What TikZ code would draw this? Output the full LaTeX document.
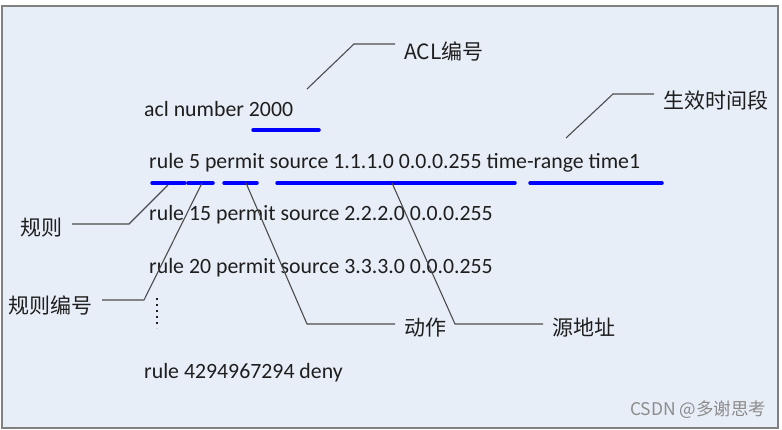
\documentclass[tikz,border=0pt]{standalone}
\usepackage{fontspec}
\setmainfont{Carlito}
\newfontfamily\cjk{Noto Sans CJK SC}
\usetikzlibrary{calc}

\definecolor{panel}{RGB}{232,238,248}
\definecolor{ink}{RGB}{30,30,30}

\tikzset{
  cmd/.style={anchor=west, inner sep=0pt, text=ink, font=\fontsize{21.8}{26}\selectfont},
  tagbox/.style={anchor=west, inner xsep=9pt, inner ysep=0pt, text=ink, font=\cjk\fontsize{21}{24}\selectfont},
  leader/.style={draw=black!70, line width=1.1pt},
  uline/.style={draw=blue, line width=3.5pt, line cap=round},
}

\begin{document}
\begin{tikzpicture}[x=1pt,y=-1pt]
  \useasboundingbox (0,0) rectangle (782,429);
  % Frame
  \draw[draw=black!50, line width=2pt, fill=panel] (2,6) rectangle (778,428);
  % Command lines
  \node[cmd] (acl) at (144,109) {acl number 2000};
  \node[cmd] (r5) at (149,163) {rule 5 permit source 1.1.1.0 0.0.0.255 time-range time1};
  \node[cmd] (r15) at (149,215) {rule 15 permit source 2.2.2.0 0.0.0.255};
  \node[cmd] (r20) at (149,268) {rule 20 permit source 3.3.3.0 0.0.0.255};
  \node[cmd] (rlast) at (144,373) {rule 4294967294 deny};
  % Dots
  \draw[line width=2.2pt, dash pattern=on 2.2pt off 3.8pt, ink] (157,298) -- (157,328);
  % Blue underlines
  \draw[uline] (253,130) -- (319,130);
  \foreach \a/\b in {152/185, 188/213, 224/257, 277/515, 530/662} {
    \draw[uline] (\a,183) -- (\b,183);
  }
  % Leader start points
  \coordinate (m-acl) at (307,89);
  \coordinate (m-time) at (566,138);
  \coordinate (m-rule) at (168,185);
  \coordinate (m-num) at (202,183);
  \coordinate (m-act) at (246,183);
  \coordinate (m-src) at (392,183);
  % Labels
  \node[tagbox] (l-acl) at (395,51) {ACL编号};
  \node[tagbox] (l-time) at (654,100) {生效时间段};
  \node[tagbox, anchor=east] (l-rule) at (72,228) {规则};
  \node[tagbox, anchor=east] (l-num) at (102,305) {规则编号};
  \node[tagbox] (l-act) at (395,328) {动作};
  \node[tagbox] (l-src) at (543,328) {源地址};
  % Leaders
  \draw[leader] (m-acl) -- (354,44) -- (354,44 -| l-acl.west);
  \draw[leader] (m-time) -- (613,94) -- (613,94 -| l-time.west);
  \draw[leader] (m-rule) -- (129,224) -- (129,224 -| l-rule.east);
  \draw[leader] (m-num) -- (144,300) -- (144,300 -| l-num.east);
  \draw[leader] (m-act) -- (307,324) -- (307,324 -| l-act.west);
  \draw[leader] (m-src) -- (455,324) -- (455,324 -| l-src.west);
  % Watermark
  \node[anchor=west, inner sep=0pt, text=black!45, font=\cjk\fontsize{17.5}{20}\selectfont] (wm) at (630,410) {CSDN @多谢思考};
\end{tikzpicture}
\end{document}
